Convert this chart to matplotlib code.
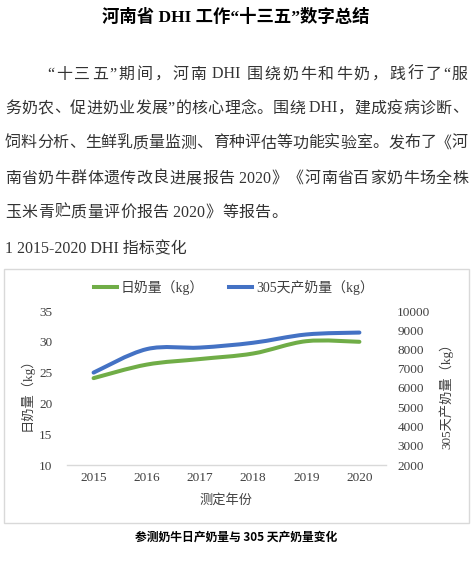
import re

import matplotlib

matplotlib.use("Agg")
import matplotlib.pyplot as plt
import numpy as np
from matplotlib.lines import Line2D
from matplotlib.patches import PathPatch, Rectangle
from matplotlib.path import Path

W, H = 474, 572

years = ["2015", "2016", "2017", "2018", "2019", "2020"]
daily_milk = [24.1, 26.3, 27.2, 28.1, 30.1, 30.0]
milk_305 = [6800, 8020, 8100, 8350, 8780, 8880]

left_ticks = [10, 15, 20, 25, 30, 35]
right_ticks = [2000, 3000, 4000, 5000, 6000, 7000, 8000, 9000, 10000]

title = "河南省 DHI 工作“十三五”数字总结"
paragraph = [
    "“十三五”期间，河南 DHI 围绕奶牛和牛奶，践行了“服",
    "务奶农、促进奶业发展”的核心理念。围绕 DHI，建成疫病诊断、",
    "饲料分析、生鲜乳质量监测、育种评估等功能实验室。发布了《河",
    "南省奶牛群体遗传改良进展报告 2020》《河南省百家奶牛场全株",
    "玉米青贮质量评价报告 2020》等报告。",
]
heading = "1 2015-2020 DHI 指标变化"
caption = "参测奶牛日产奶量与 305 天产奶量变化"
daily_label = "日奶量（kg）"
total_label = "305天产奶量（kg）"
x_label = "测定年份"

GREEN = "#70ad47"
BLUE = "#4472c4"
TEXT = "#333333"
AXIS_TEXT = "#404040"
SERIF = ["Liberation Serif", "Noto Sans CJK SC"]
SANS = ["Noto Sans CJK SC", "DejaVu Sans"]


def fx(px):
    return px / W


def fy(py):
    return 1 - py / H


def smooth_path(xs, ys):
    # Excel-style smoothed line: cubic Bezier through the data points
    pts = np.column_stack([xs, ys]).astype(float)
    ext = np.vstack([pts[0], pts, pts[-1]])
    verts = [pts[0]]
    codes = [Path.MOVETO]
    for i in range(len(pts) - 1):
        p0, p1, p2, p3 = ext[i], ext[i + 1], ext[i + 2], ext[i + 3]
        verts += [p1 + (p2 - p0) / 6, p2 - (p3 - p1) / 6, p2]
        codes += [Path.CURVE4] * 3
    return Path(verts, codes)


def place_line(fig, renderer, line, x0, y, x1=None, gap=None, **kw):
    # latin words keep their surrounding spaces, CJK chars are spread out
    tokens = re.findall(r" ?[A-Za-z0-9\-]+ ?|\S", line)
    texts = [fig.text(0, fy(y), t, va="center", ha="left", **kw) for t in tokens]
    widths = [t.get_window_extent(renderer).width for t in texts]
    if gap is None:
        gap = (x1 - x0 - sum(widths)) / (len(texts) - 1)
    x = x0
    for t, w in zip(texts, widths):
        t.set_x(fx(x))
        x += w + gap
    return gap


fig = plt.figure(figsize=(W / 100, H / 100), dpi=100)
renderer = fig.canvas.get_renderer()

fig.text(fx(236), fy(17), title, ha="center", va="center", fontsize=12.5,
         fontweight="bold", family=SERIF, color="black")

para_kw = dict(fontsize=11.5, family=SERIF, color=TEXT)
line_y = [74.5, 108.5, 143.5, 179, 213]
gap = None
for i, (line, y) in enumerate(zip(paragraph, line_y)):
    x0 = 47 if i == 0 else 5
    if i < len(paragraph) - 1:
        gap = place_line(fig, renderer, line, x0, y, x1=468, **para_kw)
    else:
        place_line(fig, renderer, line, x0, y, gap=gap, **para_kw)

fig.text(fx(5), fy(249), heading, ha="left", va="center", fontsize=11.5,
         family=SERIF, color=TEXT)

fig.add_artist(Rectangle((fx(4), fy(523)), (469 - 4) / W, (523 - 269) / H,
                         transform=fig.transFigure, fill=False,
                         edgecolor="#d9d9d9", lw=1.0))

ax = fig.add_axes([fx(67), fy(465), (386 - 67) / W, (465 - 311) / H])
ax2 = ax.twinx()
x = np.arange(len(years))

ax.add_patch(PathPatch(smooth_path(x, daily_milk), fill=False,
                       edgecolor=GREEN, lw=2.9, capstyle="round"))
ax2.add_patch(PathPatch(smooth_path(x, milk_305), fill=False,
                        edgecolor=BLUE, lw=2.9, capstyle="round"))

ax.set_xlim(-0.5, len(years) - 0.5)
ax.set_ylim(10, 35)
ax2.set_ylim(2000, 10000)
ax.set_xticks(x)
ax.set_xticklabels(years)
ax.set_yticks(left_ticks)
ax2.set_yticks(right_ticks)

for a in (ax, ax2):
    a.set_facecolor("none")
    for side in ("top", "left", "right"):
        a.spines[side].set_visible(False)
    a.spines["bottom"].set_visible(a is ax)
ax.spines["bottom"].set_color("#d9d9d9")
ax.spines["bottom"].set_linewidth(1.0)

ax.tick_params(axis="x", length=0, pad=5, labelsize=9.5, labelcolor=AXIS_TEXT)
ax.tick_params(axis="y", length=0, pad=10.6, labelsize=9.5, labelcolor=AXIS_TEXT)
ax2.tick_params(axis="y", length=0, pad=8.1, labelsize=9.5, labelcolor=AXIS_TEXT)
for lab in ax.get_xticklabels() + ax.get_yticklabels() + ax2.get_yticklabels():
    lab.set_family(SERIF)

fig.text(fx(226), fy(500), x_label, ha="center", va="center", fontsize=9.5,
         family=SERIF, color=AXIS_TEXT)
fig.text(fx(27), fy(391), daily_label, ha="center", va="center", rotation=90,
         fontsize=9.5, family=SERIF, color=AXIS_TEXT)
fig.text(fx(446), fy(393), total_label, ha="center", va="center", rotation=90,
         fontsize=9.5, family=SERIF, color=AXIS_TEXT)

handles = [
    Line2D([], [], color=GREEN, lw=2.9, label=daily_label),
    Line2D([], [], color=BLUE, lw=2.9, label=total_label),
]
leg = fig.legend(handles=handles, loc="center", bbox_to_anchor=(fx(234), fy(287)),
                 ncol=2, frameon=False, handlelength=1.65, handletextpad=0.3,
                 columnspacing=1.8, prop={"family": SERIF, "size": 10})
for t in leg.get_texts():
    t.set_color(AXIS_TEXT)

fig.text(fx(236), fy(537), caption, ha="center", va="center", fontsize=8.5,
         fontweight="bold", family=SANS, color="black")

fig.savefig("out.png", dpi=100)
